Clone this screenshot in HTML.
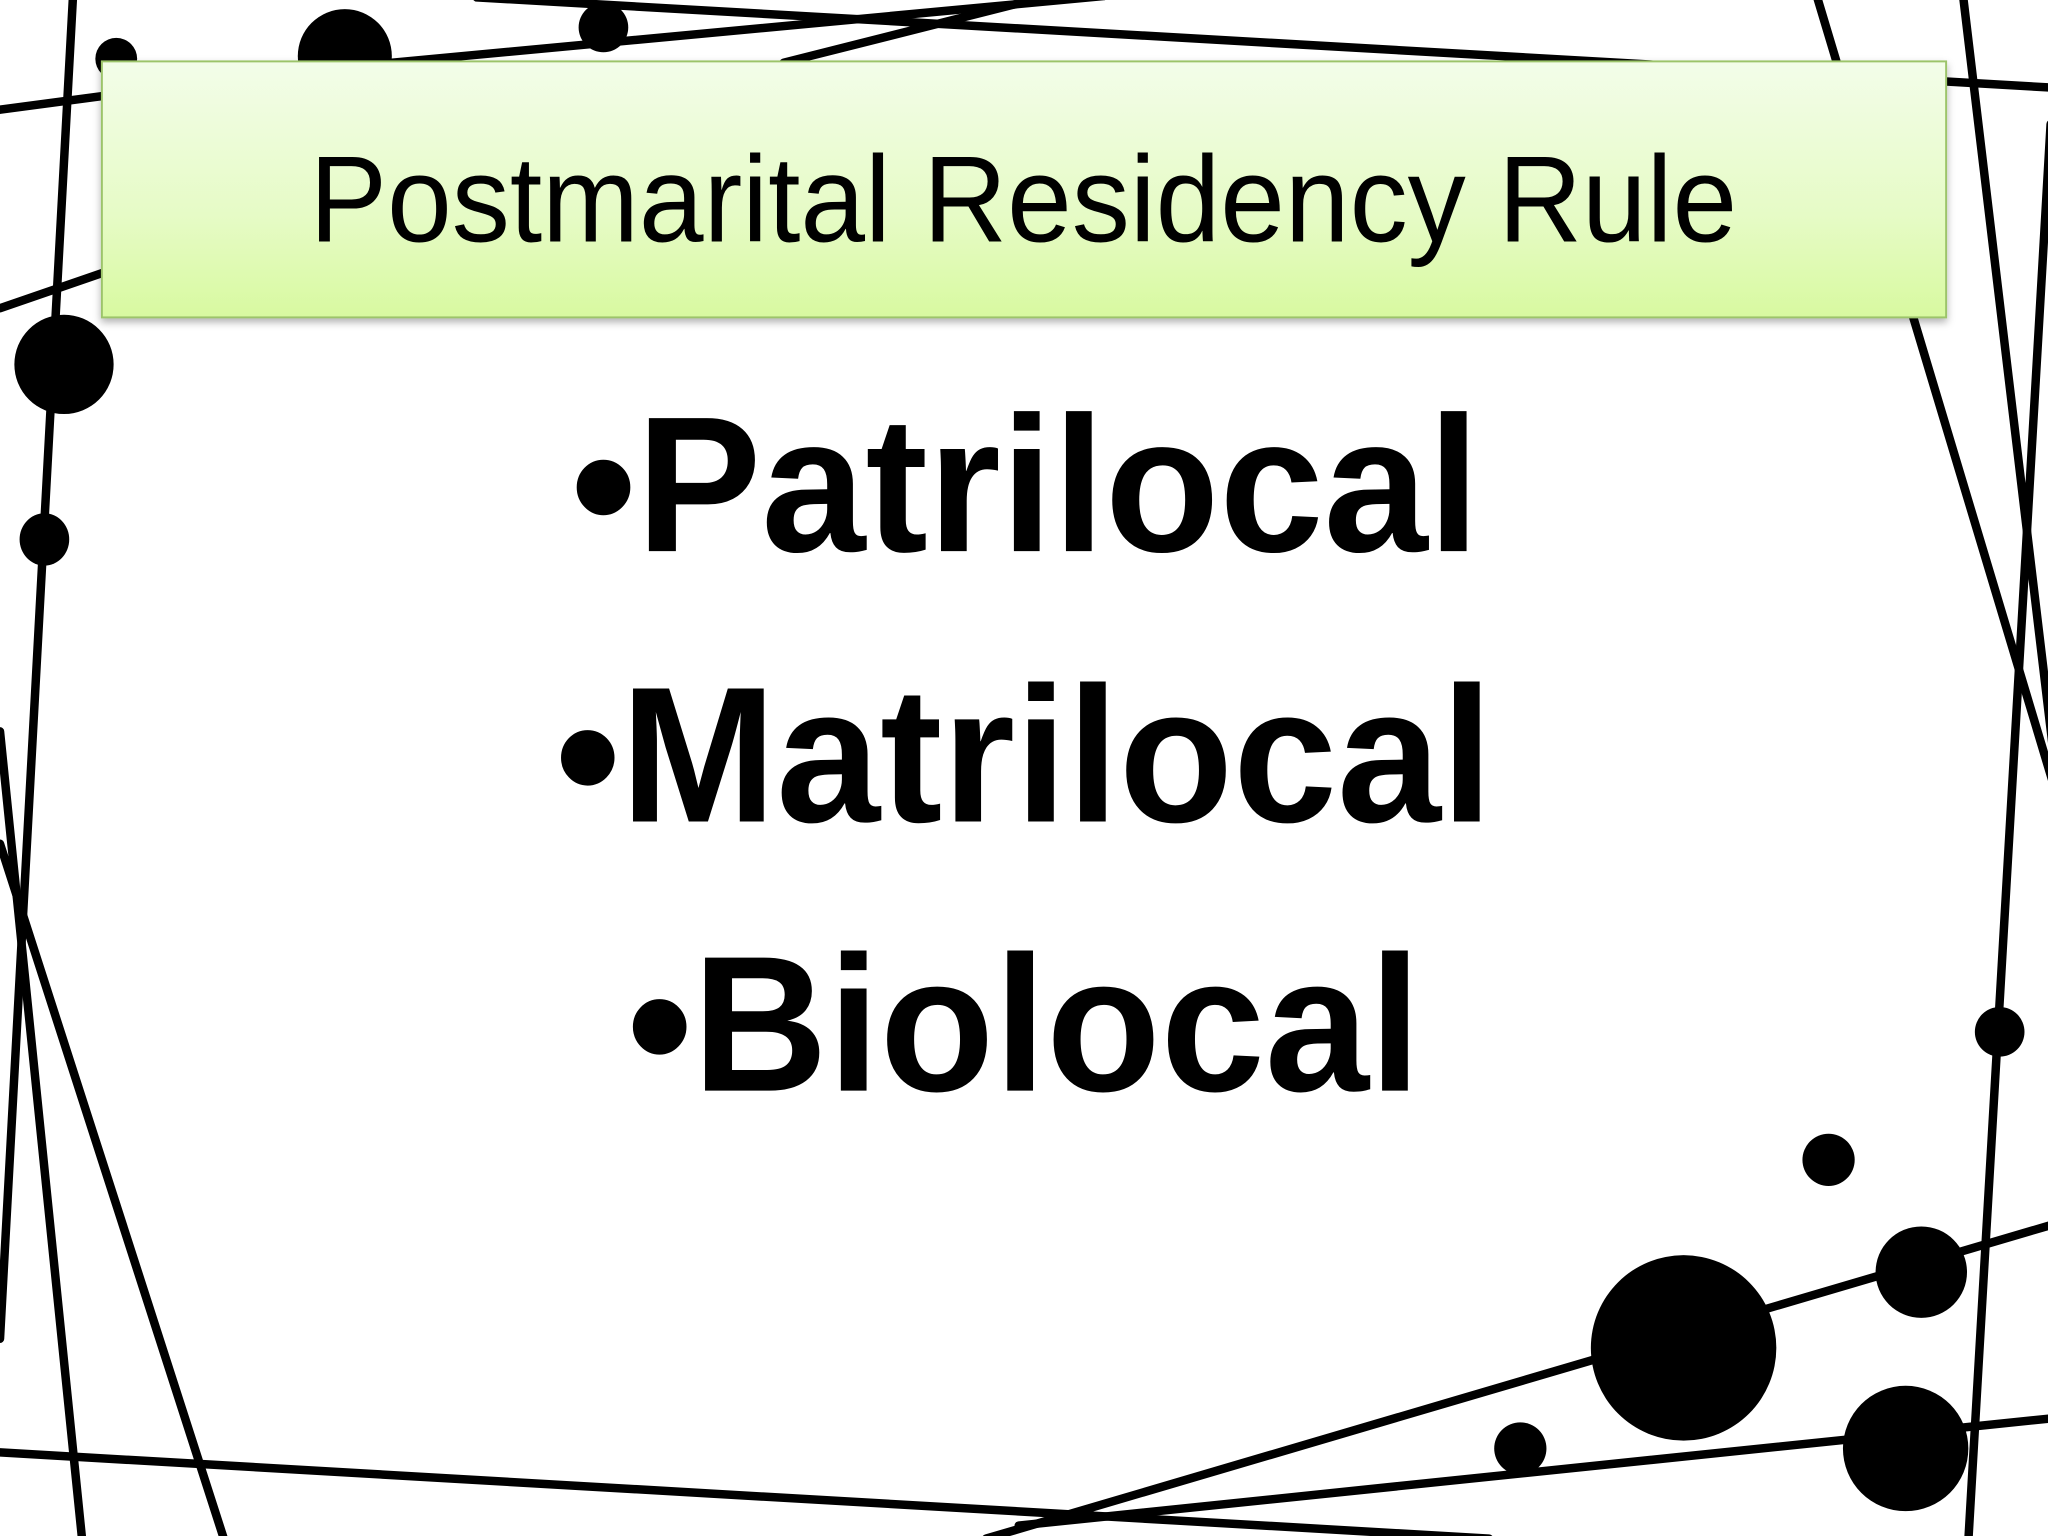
<!DOCTYPE html>
<html><head><meta charset="utf-8"><style>
html,body{margin:0;padding:0;background:#fff;}
svg{display:block;}
</style></head><body>
<svg width="2048" height="1536" viewBox="0 0 1568 1176" xmlns="http://www.w3.org/2000/svg">
<defs>
<linearGradient id="g" x1="0" y1="0" x2="0" y2="1">
<stop offset="0" stop-color="#f3fde9"/>
<stop offset="0.6" stop-color="#e6fbc6"/>
<stop offset="1" stop-color="#d8f9a0"/>
</linearGradient>
<filter id="sh" x="-5%" y="-5%" width="110%" height="120%">
<feDropShadow dx="0" dy="3" stdDeviation="3" flood-color="#000" flood-opacity="0.3"/>
</filter>
</defs>
<rect width="1568" height="1176" fill="#fff"/>
<g stroke="#000" stroke-width="6.5" fill="none" stroke-linecap="round">
<!-- left -->
<line x1="56" y1="-5" x2="0" y2="1025"/>
<line x1="0" y1="560" x2="63" y2="1180"/>
<line x1="0" y1="646" x2="172" y2="1180"/>
<line x1="0" y1="84" x2="90" y2="72"/>
<line x1="0" y1="236" x2="90" y2="205"/>
<!-- top -->
<line x1="290" y1="49" x2="845" y2="-3"/>
<line x1="365" y1="-2" x2="1570" y2="67"/>
<line x1="600" y1="48" x2="810" y2="-5"/>
<!-- right -->
<line x1="1391" y1="-3" x2="1572" y2="600"/>
<line x1="1503" y1="-3" x2="1572" y2="575"/>
<line x1="1570" y1="95" x2="1507" y2="1180"/>
<!-- bottom -->
<line x1="0" y1="1112" x2="1140" y2="1178"/>
<line x1="755" y1="1178" x2="1570" y2="938"/>
<line x1="780" y1="1168" x2="1570" y2="1086"/>
</g>
<g fill="#000">
<circle cx="89" cy="45" r="16"/>
<circle cx="264" cy="43" r="36"/>
<circle cx="462" cy="21" r="19"/>
<ellipse cx="49" cy="279" rx="38" ry="38"/>
<ellipse cx="34" cy="413" rx="19" ry="20"/>
<circle cx="1289" cy="1032" r="71"/>
<circle cx="1471" cy="974" r="35"/>
<circle cx="1459" cy="1109" r="48"/>
<circle cx="1164" cy="1109" r="20"/>
<circle cx="1400" cy="888" r="20"/>
<circle cx="1531" cy="790" r="19"/>
</g>
<rect x="78" y="47" width="1412" height="196" fill="url(#g)" stroke="#9cc46a" stroke-width="1.5" filter="url(#sh)"/>
<text x="237" y="185" font-family="Liberation Sans, sans-serif" font-size="94" textLength="1093" lengthAdjust="spacingAndGlyphs" fill="#000">Postmarital Residency Rule</text>
<g font-family="Liberation Sans, sans-serif" font-weight="bold" font-size="148" fill="#000">
<text x="437" y="422" textLength="696" lengthAdjust="spacingAndGlyphs">•Patrilocal</text>
<text x="425" y="629" textLength="718" lengthAdjust="spacingAndGlyphs">•Matrilocal</text>
<text x="480" y="835" textLength="608" lengthAdjust="spacingAndGlyphs">•Biolocal</text>
</g>
</svg>
</body></html>
